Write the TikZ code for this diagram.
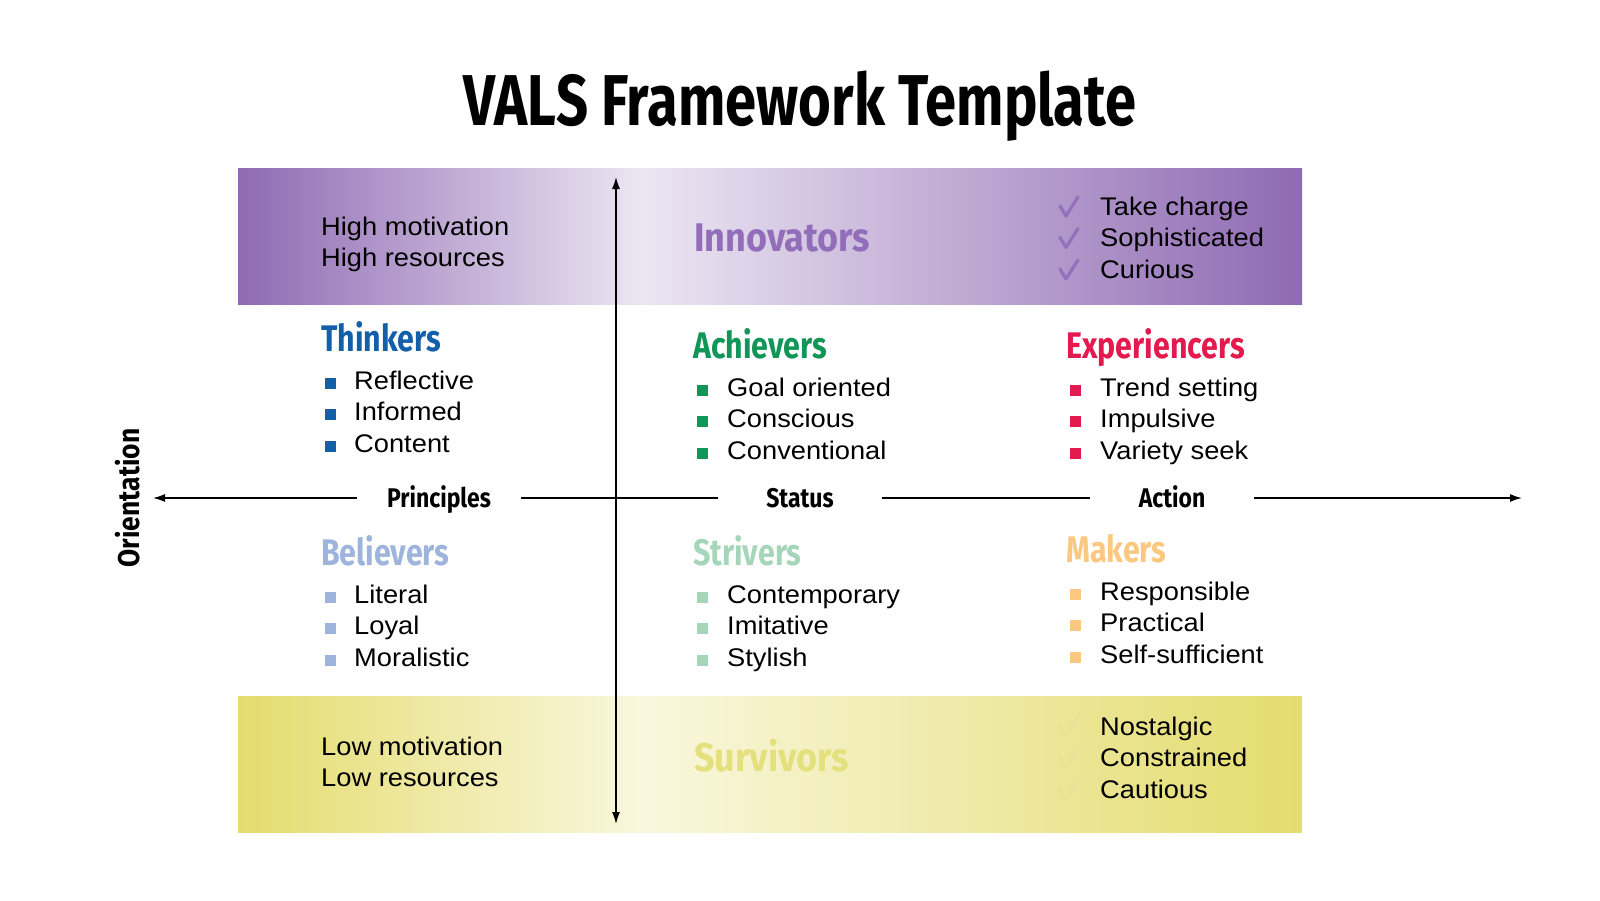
\documentclass[tikz,border=0pt]{standalone}
\usepackage{fontspec}
\setmainfont[FakeStretch=1.07]{Liberation Sans}
\newfontfamily\headfont[FakeStretch=0.82]{Fira Sans}
\newfontfamily\titlefont[FakeStretch=0.78]{Fira Sans}
\newfontfamily\bigheadfont[FakeStretch=0.9]{Fira Sans}
\newfontfamily\axfont[FakeStretch=0.85]{Fira Sans}
\newfontfamily\orfont[FakeStretch=0.88]{Fira Sans}
\usetikzlibrary{arrows.meta}
\definecolor{pdark}{RGB}{143,106,179}
\definecolor{plight}{RGB}{236,230,242}
\definecolor{ydark}{RGB}{228,220,110}
\definecolor{ylight}{RGB}{249,247,222}
\definecolor{innovc}{RGB}{146,110,186}
\definecolor{checkp}{RGB}{148,112,188}
\definecolor{survc}{RGB}{228,224,125}
\definecolor{checky}{RGB}{232,226,150}
\definecolor{thinkc}{RGB}{20,96,168}
\definecolor{achc}{RGB}{18,150,88}
\definecolor{expc}{RGB}{226,26,78}
\definecolor{belc}{RGB}{158,180,220}
\definecolor{strc}{RGB}{166,214,186}
\definecolor{makc}{RGB}{250,200,128}
\pgfdeclarehorizontalshading{purpband}{100bp}{color(0bp)=(pdark); color(25bp)=(pdark); color(44bp)=(plight); color(75bp)=(pdark); color(100bp)=(pdark)}
\pgfdeclarehorizontalshading{yelband}{100bp}{color(0bp)=(ydark); color(25bp)=(ydark); color(44bp)=(ylight); color(75bp)=(ydark); color(100bp)=(ydark)}
\tikzset{
  body/.style={anchor=base west, inner sep=0pt, font=\fontsize{25.5}{30}\selectfont},
  head/.style={anchor=base west, inner sep=0pt, font=\headfont\bfseries\fontsize{37}{40}\selectfont},
  bighead/.style={anchor=base west, inner sep=0pt, font=\bigheadfont\bfseries\fontsize{40}{44}\selectfont},
  axlabel/.style={anchor=base, inner sep=0pt, minimum width=164pt, text height=18pt, text depth=0pt, font=\axfont\bfseries\fontsize{27}{30}\selectfont},
  sq/.style={rectangle, inner sep=0pt, minimum size=11pt, anchor=south west},
  chkmark/.pic={\draw[line width=3.2pt, line cap=round, line join=round] (-9,-1) -- (-3,9) -- (9,-10);},
  axis/.style={line width=1.5pt, black},
  tip/.style={-{Latex[length=12pt,width=8pt]}}
}
\begin{document}
\begin{tikzpicture}[x=1pt,y=-1pt]
\useasboundingbox (0,0) rectangle (1600,900);
\fill[white] (0,0) rectangle (1600,900);
% bands
\path[shading=purpband] (238,168) rectangle (1302,304);
\path[shading=yelband] (238,696) rectangle (1302,832);
% title
\node[anchor=base, inner sep=0pt, font=\titlefont\bfseries\fontsize{72}{80}\selectfont] (title) at (800,125) {VALS Framework Template};
% axes
\coordinate (vtop) at (616,177);
\coordinate (vbot) at (616,824);
\coordinate (hl) at (153,498);
\coordinate (hr) at (1522,498);
\node[axlabel] (prin) at (439,507) {Principles};
\node[axlabel] (stat) at (800,507) {Status};
\node[axlabel] (act) at (1172,507) {Action};
\draw[axis,{Latex[length=12pt,width=8pt]}-{Latex[length=12pt,width=8pt]}] (vbot) -- (vtop);
\draw[axis,tip] (prin) -- (hl);
\draw[axis] (prin) -- (stat);
\draw[axis] (stat) -- (act);
\draw[axis,tip] (act) -- (hr);
\node[rotate=90, inner sep=0pt, font=\orfont\bfseries\fontsize{30}{34}\selectfont] (orient) at (128,498) {Orientation};
% top band
\node[body] (hm) at (321,235) {High motivation};
\node[body] (hr1) at (321,266.5) {High resources};
\node[bighead, text=innovc] (innov) at (694,251) {Innovators};
\pic[draw=checkp] at (1069,207) {chkmark};
\pic[draw=checkp] at (1069,238.5) {chkmark};
\pic[draw=checkp] at (1069,270) {chkmark};
\node[body] (tc) at (1100,215) {Take charge};
\node[body] (so) at (1100,246.5) {Sophisticated};
\node[body] (cu) at (1100,278) {Curious};
% thinkers
\node[head, text=thinkc] (think) at (321,351) {Thinkers};
\node[sq, fill=thinkc] (tb1) at (325,389) {};
\node[sq, fill=thinkc] (tb2) at (325,420.5) {};
\node[sq, fill=thinkc] (tb3) at (325,452) {};
\node[body] (t1) at (354,389) {Reflective};
\node[body] (t2) at (354,420.5) {Informed};
\node[body] (t3) at (354,452) {Content};
% achievers
\node[head, text=achc] (ach) at (693,358) {Achievers};
\node[sq, fill=achc] (ab1) at (697,396) {};
\node[sq, fill=achc] (ab2) at (697,427.5) {};
\node[sq, fill=achc] (ab3) at (697,459) {};
\node[body] (a1) at (727,396) {Goal oriented};
\node[body] (a2) at (727,427.5) {Conscious};
\node[body] (a3) at (727,459) {Conventional};
% experiencers
\node[head, text=expc] (exp) at (1066,358) {Experiencers};
\node[sq, fill=expc] (eb1) at (1070,396) {};
\node[sq, fill=expc] (eb2) at (1070,427.5) {};
\node[sq, fill=expc] (eb3) at (1070,459) {};
\node[body] (e1) at (1100,396) {Trend setting};
\node[body] (e2) at (1100,427.5) {Impulsive};
\node[body] (e3) at (1100,459) {Variety seek};
% believers
\node[head, text=belc] (bel) at (321,565) {Believers};
\node[sq, fill=belc] (bb1) at (325,603) {};
\node[sq, fill=belc] (bb2) at (325,634.5) {};
\node[sq, fill=belc] (bb3) at (325,666) {};
\node[body] (b1) at (354,603) {Literal};
\node[body] (b2) at (354,634.5) {Loyal};
\node[body] (b3) at (354,666) {Moralistic};
% strivers
\node[head, text=strc] (str) at (693,565) {Strivers};
\node[sq, fill=strc] (sb1) at (697,603) {};
\node[sq, fill=strc] (sb2) at (697,634.5) {};
\node[sq, fill=strc] (sb3) at (697,666) {};
\node[body] (s1) at (727,603) {Contemporary};
\node[body] (s2) at (727,634.5) {Imitative};
\node[body] (s3) at (727,666) {Stylish};
% makers
\node[head, text=makc] (mak) at (1066,562) {Makers};
\node[sq, fill=makc] (mb1) at (1070,600) {};
\node[sq, fill=makc] (mb2) at (1070,631.5) {};
\node[sq, fill=makc] (mb3) at (1070,663) {};
\node[body] (m1) at (1100,600) {Responsible};
\node[body] (m2) at (1100,631.5) {Practical};
\node[body] (m3) at (1100,663) {Self-sufficient};
% bottom band
\node[body] (lm) at (321,755) {Low motivation};
\node[body] (lr) at (321,786.5) {Low resources};
\node[bighead, text=survc] (surv) at (694,771) {Survivors};
\pic[draw=checky] at (1069,727) {chkmark};
\pic[draw=checky] at (1069,758.5) {chkmark};
\pic[draw=checky] at (1069,790) {chkmark};
\node[body] (no) at (1100,735) {Nostalgic};
\node[body] (co) at (1100,766.5) {Constrained};
\node[body] (ca) at (1100,798) {Cautious};
\end{tikzpicture}
\end{document}
